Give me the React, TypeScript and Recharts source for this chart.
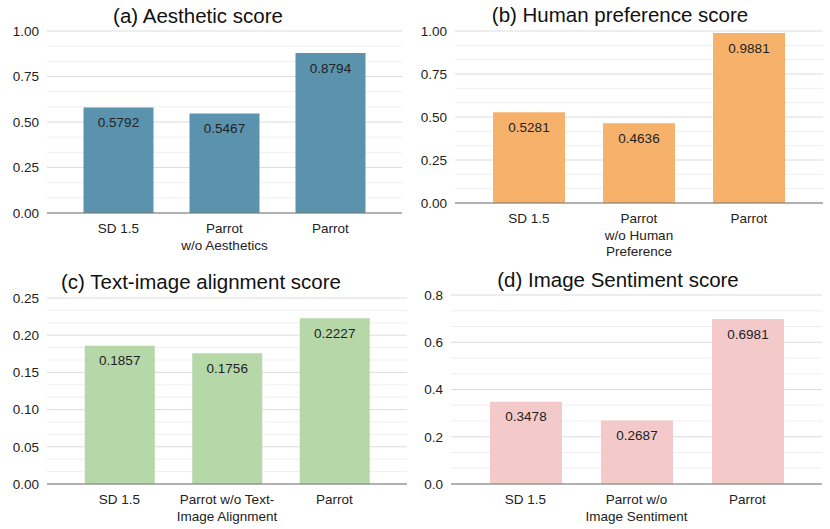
import React from 'react';
import { BarChart, Bar, XAxis, YAxis, CartesianGrid, LabelList } from 'recharts';

const aestheticCats = ['SD 1.5', 'Parrot\nw/o Aesthetics', 'Parrot'];
const aestheticVals = [0.5792, 0.5467, 0.8794];
const aestheticTicks = [0, 0.25, 0.5, 0.75, 1];

const humanCats = ['SD 1.5', 'Parrot\nw/o Human\nPreference', 'Parrot'];
const humanVals = [0.5281, 0.4636, 0.9881];
const humanTicks = [0, 0.25, 0.5, 0.75, 1];

const alignCats = ['SD 1.5', 'Parrot w/o Text-\nImage Alignment', 'Parrot'];
const alignVals = [0.1857, 0.1756, 0.2227];
const alignTicks = [0, 0.05, 0.1, 0.15, 0.2, 0.25];

const sentimentCats = ['SD 1.5', 'Parrot w/o\nImage Sentiment', 'Parrot'];
const sentimentVals = [0.3478, 0.2687, 0.6981];
const sentimentTicks = [0, 0.2, 0.4, 0.6, 0.8];

const FONT = '"Liberation Sans", Arial, sans-serif';

const MultiLineTick = (props: any) => {
  const { x, y, payload } = props;
  const lines = String(payload.value).split('\n');
  return (
    <text x={x} y={y} textAnchor="middle" fontSize={13.5} fontFamily={FONT} fill="#222">
      {lines.map((l, i) => (
        <tspan key={i} x={x} dy={i === 0 ? 12 : 16.5}>
          {l}
        </tspan>
      ))}
    </text>
  );
};

interface PanelProps {
  title: string;
  titleX: number;
  titleY: number;
  box: { left: number; top: number; width: number; height: number };
  plot: { x0: number; x1: number; y0: number; y1: number };
  cats: string[];
  vals: number[];
  ticks: number[];
  decimals: number;
  color: string;
  pad: number;
  barSize: number;
}

const Panel: React.FC<PanelProps> = ({ title, titleX, titleY, box, plot, cats, vals, ticks, decimals, color, pad, barSize }) => {
  const data = cats.map((c, i) => ({ name: c, value: vals[i] }));
  const xh = 50;
  const margin = {
    top: plot.y0 - box.top,
    right: box.left + box.width - plot.x1,
    left: 0,
    bottom: box.top + box.height - plot.y1 - xh,
  };
  // two faint minor lines between each pair of labelled ticks
  const step = ticks[1] - ticks[0];
  const minor: number[] = [];
  for (let i = 0; i < ticks.length - 1; i++) {
    minor.push(ticks[i] + step / 3, ticks[i] + (2 * step) / 3);
  }
  const plotH = plot.y1 - plot.y0;
  const top = ticks[ticks.length - 1];
  const minorPx = minor.map((m) => plot.y1 - box.top - (m / top) * plotH);
  return (
    <>
      <div
        style={{
          position: 'absolute',
          left: titleX - 200,
          top: titleY - 12,
          width: 400,
          textAlign: 'center',
          fontFamily: FONT,
          fontSize: 20.5,
          lineHeight: '24px',
          color: '#111',
        }}
      >
        {title}
      </div>
      <div style={{ position: 'absolute', left: box.left, top: box.top }}>
        <BarChart width={box.width} height={box.height} data={data} margin={margin}>
          <CartesianGrid vertical={false} stroke="#efefef" horizontalPoints={minorPx} />
          <CartesianGrid vertical={false} stroke="#dcdcdc" />
          <XAxis
            dataKey="name"
            interval={0}
            height={xh}
            padding={{ left: pad, right: pad }}
            tickLine={false}
            axisLine={{ stroke: '#777', strokeWidth: 1 }}
            tick={<MultiLineTick />}
          />
          <YAxis
            width={plot.x0 - box.left}
            domain={[ticks[0], top]}
            ticks={ticks}
            tickFormatter={(v: number) => v.toFixed(decimals)}
            axisLine={false}
            tickLine={false}
            tick={{ fontSize: 13.5, fontFamily: FONT, fill: '#222' }}
          />
          <Bar dataKey="value" fill={color} barSize={barSize} isAnimationActive={false}>
            <LabelList
              dataKey="value"
              position="insideTop"
              offset={10}
              formatter={(v: any) => Number(v).toFixed(4)}
              style={{ fontSize: 13.5, fontFamily: FONT, fill: '#222' }}
            />
          </Bar>
        </BarChart>
      </div>
    </>
  );
};

export default function App() {
  return (
    <div style={{ position: 'absolute', left: 0, top: 0, width: 830, height: 529, background: '#fff' }}>
      <Panel
        title="(a) Aesthetic score"
        titleX={198}
        titleY={16}
        box={{ left: 0, top: 0, width: 415, height: 265 }}
        plot={{ x0: 47, x1: 402, y0: 31, y1: 213 }}
        cats={aestheticCats}
        vals={aestheticVals}
        ticks={aestheticTicks}
        decimals={2}
        color="#5b93ae"
        pad={18.5}
        barSize={70}
      />
      <Panel
        title="(b) Human preference score"
        titleX={620}
        titleY={15}
        box={{ left: 415, top: 0, width: 415, height: 265 }}
        plot={{ x0: 455, x1: 823, y0: 31, y1: 203 }}
        cats={humanCats}
        vals={humanVals}
        ticks={humanTicks}
        decimals={2}
        color="#f6b26b"
        pad={19}
        barSize={72}
      />
      <Panel
        title="(c) Text-image alignment score"
        titleX={201}
        titleY={282}
        box={{ left: 0, top: 265, width: 415, height: 264 }}
        plot={{ x0: 47, x1: 407, y0: 298, y1: 484 }}
        cats={alignCats}
        vals={alignVals}
        ticks={alignTicks}
        decimals={2}
        color="#b6d7a8"
        pad={18.75}
        barSize={70}
      />
      <Panel
        title="(d) Image Sentiment score"
        titleX={618}
        titleY={280}
        box={{ left: 415, top: 265, width: 415, height: 264 }}
        plot={{ x0: 451, x1: 822, y0: 295, y1: 484 }}
        cats={sentimentCats}
        vals={sentimentVals}
        ticks={sentimentTicks}
        decimals={1}
        color="#f4c9c9"
        pad={19}
        barSize={72}
      />
    </div>
  );
}
